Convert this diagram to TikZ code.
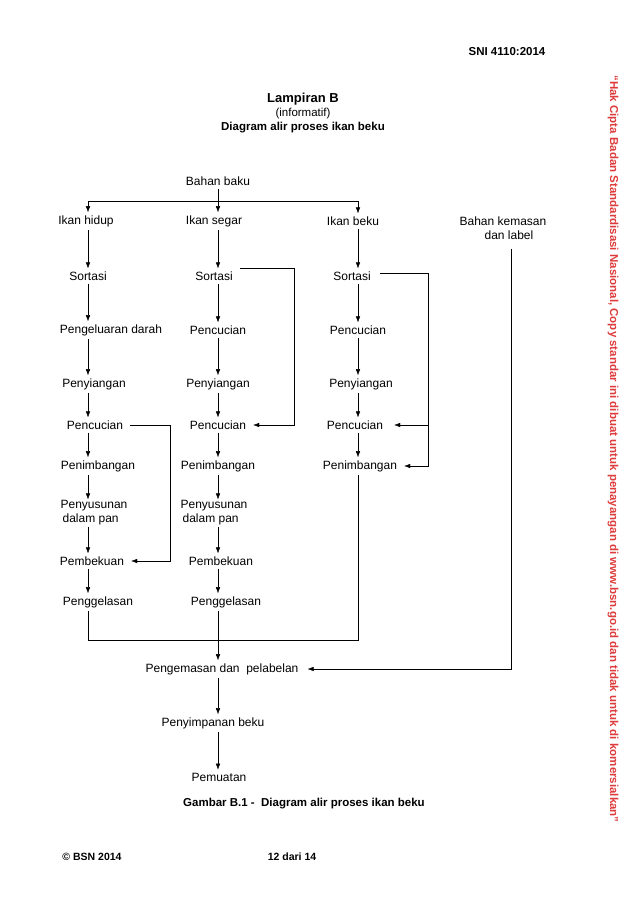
\documentclass[tikz,border=0pt]{standalone}
\usepackage{fontspec}
\setmainfont{Liberation Sans}
\usepackage{tikz}
\usetikzlibrary{positioning, arrows.meta}
\definecolor{bsnred}{RGB}{222,60,60}
\tikzset{
  proc/.style={inner sep=3pt, font=\fontsize{12}{14}\selectfont, align=left},
  flow/.style={-{Latex[length=6pt,width=4.5pt]}, thin},
  link/.style={thin}
}
\begin{document}
\begin{tikzpicture}[x=1pt, y=-1pt]

      \fill [white] (0,0) rectangle (638,903);

      %Header
      \node [font=\fontsize{11.5}{13}\bfseries] (sni) at (507,52) {SNI 4110:2014};
      \node [font=\fontsize{13}{15}\bfseries] (lamp) at (303,99) {Lampiran B};
      \node [font=\fontsize{11.5}{13}\selectfont] (inf) at (303,114) {(informatif)};
      \node [font=\fontsize{11.5}{13}\bfseries] (judul) at (303,128) {Diagram alir proses ikan beku};

      %Columns
      \coordinate (c1) at (88,0);
      \coordinate (c2) at (218,0);
      \coordinate (c3) at (358,0);
      \coordinate (c4) at (511,0);

      \node [proc] (bahan) at (218,181) {Bahan baku};

      %Ikan hidup
      \node [proc] (h0) at (86,221)  {Ikan hidup};
      \node [proc] (h1) at (88,276)  {Sortasi};
      \node [proc] (h2) at (111,330) {Pengeluaran darah};
      \node [proc] (h3) at (94,384)  {Penyiangan};
      \node [proc] (h4) at (95,425)  {Pencucian};
      \node [proc] (h5) at (98,466)  {Penimbangan};
      \node [proc, inner sep=1pt] (h6) at (94,513) {Penyusunan\\ \,dalam pan};
      \node [proc] (h7) at (92,561)  {Pembekuan};
      \node [proc] (h8) at (98,602)  {Penggelasan};

      %Ikan segar
      \node [proc] (s0) at (214,221) {Ikan segar};
      \node [proc] (s1) at (214,276) {Sortasi};
      \node [proc] (s2) at (218,330) {Pencucian};
      \node [proc] (s3) at (218,384) {Penyiangan};
      \node [proc] (s4) at (218,425) {Pencucian};
      \node [proc] (s5) at (218,466) {Penimbangan};
      \node [proc, inner sep=1pt] (s6) at (214,513) {Penyusunan\\ \,dalam pan};
      \node [proc] (s7) at (221,561) {Pembekuan};
      \node [proc] (s8) at (226,602) {Penggelasan};

      %Ikan beku
      \node [proc] (b0) at (353,221) {Ikan beku};
      \node [proc] (b1) at (352,276) {Sortasi};
      \node [proc] (b2) at (358,330) {Pencucian};
      \node [proc] (b3) at (361,384) {Penyiangan};
      \node [proc] (b4) at (355,425) {Pencucian};
      \node [proc] (b5) at (360,466) {Penimbangan};

      %Kemasan
      \node [proc, align=center] (kem) at (503,228) {Bahan kemasan\\ \quad dan label};

      %Akhir
      \node [proc] (p1) at (222,669) {Pengemasan dan \ pelabelan};
      \node [proc] (p2) at (213,723) {Penyimpanan beku};
      \node [proc] (p3) at (219,777) {Pemuatan};

      %Branching
      \coordinate (split) at (218,201);
      \draw [link] (bahan.south) -- (split);
      \draw [link] (c1 |- split) -- (c3 |- split);
      \draw [flow] (split) -- (c2 |- s0.north);
      \draw [flow] (c1 |- split) -- (c1 |- h0.north);
      \draw [flow] (c3 |- split) -- (c3 |- b0.north);

      %Vertical arrows
      \foreach \a/\b in {h0/h1, h1/h2, h2/h3, h3/h4, h4/h5, h5/h6, h6/h7, h7/h8} {
        \draw [flow] (c1 |- \a.south) -- (c1 |- \b.north);
      }
      \foreach \a/\b in {s0/s1, s1/s2, s2/s3, s3/s4, s4/s5, s5/s6, s6/s7, s7/s8, s8/p1} {
        \draw [flow] (c2 |- \a.south) -- (c2 |- \b.north);
      }
      \foreach \a/\b in {b0/b1, b1/b2, b2/b3, b3/b4, b4/b5} {
        \draw [flow] (c3 |- \a.south) -- (c3 |- \b.north);
      }
      \draw [flow] (p1.south -| c2) -- (p2.north -| c2);
      \draw [flow] (p2.south -| c2) -- (p3.north -| c2);

      %Bypass lines
      \draw [flow] ([xshift=4pt]h4.east) -| (170,561) -- ([xshift=4pt]h7.east);
      \draw [flow] ([xshift=4pt,yshift=8pt]s1.east) -| (294,425) -- ([xshift=4pt]s4.east);
      \draw [flow] ([xshift=6pt,yshift=3pt]b1.east) -| (428,466) -- ([xshift=4pt]b5.east);
      \draw [flow] (428,425) -- ([xshift=8pt]b4.east);

      %Join
      \coordinate (join) at (0,640);
      \draw [link] (c1 |- h8.south) -- (c1 |- join) -- (c3 |- join) -- (c3 |- b5.south);
      \draw [flow] ([yshift=-6pt]c4 |- kem.south) -- (c4 |- p1) -- ([xshift=6pt]p1.east);

      %Caption and footer
      \node [font=\fontsize{11.5}{13}\bfseries] (cap) at (304,804) {Gambar B.1 - \ Diagram alir proses ikan beku};
      \node [font=\fontsize{10.5}{12}\bfseries] (copy) at (92,857) {© BSN 2014};
      \node [font=\fontsize{10.5}{12}\bfseries] (page) at (292,857) {12 dari 14};
      \node [rotate=-90, text=bsnred, font=\fontsize{11.5}{13}\bfseries] (hak) at (613,449)
            {“Hak Cipta Badan Standardisasi Nasional, Copy standar ini dibuat untuk penayangan di www.bsn.go.id dan tidak untuk di komersialkan”};
    \end{tikzpicture}
\end{document}
